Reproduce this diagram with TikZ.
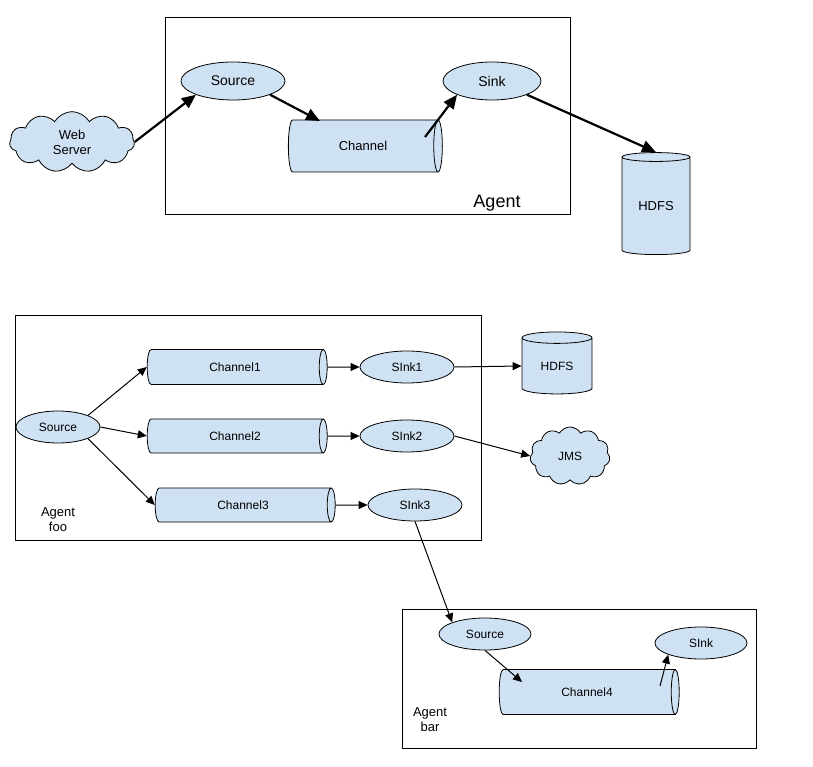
\documentclass[tikz,border=0pt]{standalone}
\usepackage{fontspec}
\setmainfont{Liberation Sans}
\usetikzlibrary{shapes.geometric,shapes.symbols,arrows.meta}
\definecolor{boxblue}{RGB}{207,226,243}
\begin{document}
\begin{tikzpicture}[x=1pt,y=-1pt,
   every node/.style={inner sep=0pt},
   ell/.style={draw,ellipse,fill=boxblue,thick},
   pipe/.style={draw,cylinder,fill=boxblue,thick,aspect=0.9,shape border rotate=0},
   tank/.style={draw,cylinder,fill=boxblue,thick,aspect=0.25,shape border rotate=90},
   fluff/.style={draw,cloud,cloud puffs=11,cloud puff arc=120,fill=boxblue,thick},
   frame/.style={draw,thick},
   big/.style={->,>={Triangle[length=14pt,width=12pt]},line width=2.2pt},
   to/.style={->,>={Triangle[length=9pt,width=8pt]},line width=1pt}]
\useasboundingbox (0,0) rectangle (813,767);
% top agent
\draw[frame] (165,17) rectangle (570,214);
\node[font=\fontsize{18}{20}\selectfont] (ag) at (497,203) {Agent};
\node[fluff,minimum width=125,minimum height=50,font=\fontsize{13}{15}\selectfont,align=center] (web) at (72,142) {Web\\Server};
\node[ell,minimum width=104,minimum height=38,font=\fontsize{14}{16}\selectfont] (src) at (233,81) {Source};
\node[pipe,minimum height=154,minimum width=52,font=\fontsize{13}{15}\selectfont] (ch) at (363,146) {Channel};
\node[ell,minimum width=98,minimum height=38,font=\fontsize{14}{16}\selectfont] (snk) at (492,81) {Sink};
\node[tank,minimum width=68,minimum height=102,font=\fontsize{13}{15}\selectfont] (hdfs) at (656,206) {HDFS};
\coordinate (chin) at (425,137);
\draw[big] (web.east) -- (src.south west);
\draw[big] (src.south east) -- (320,121);
\draw[big] (chin) -- (snk.south west);
\draw[big] (snk.south east) -- (hdfs.north);
% agent foo
\draw[frame] (15,315) rectangle (481,540);
\node[font=\fontsize{13}{15}\selectfont,align=center] (foo) at (58,520) {Agent\\foo};
\begin{scope}[every node/.append style={font=\fontsize{12}{14}\selectfont}]
\node[ell,minimum width=84,minimum height=32] (fsrc) at (58,427) {Source};
\node[pipe,minimum height=180,minimum width=35] (c1) at (235,367) {Channel1};
\node[pipe,minimum height=180,minimum width=34] (c2) at (235,436) {Channel2};
\node[pipe,minimum height=180,minimum width=34] (c3) at (243,505) {Channel3};
\node[ell,minimum width=94,minimum height=32] (s1) at (407,367) {SInk1};
\node[ell,minimum width=94,minimum height=32] (s2) at (407,436) {SInk2};
\node[ell,minimum width=94,minimum height=32] (s3) at (415,505) {SInk3};
\node[tank,minimum width=70,minimum height=62,aspect=0.35] (hdfs2) at (557,366) {HDFS};
\node[fluff,minimum width=80,minimum height=58] (jms) at (570,456) {JMS};
% agent bar
\node[ell,minimum width=92,minimum height=32] (bsrc) at (485,634) {Source};
\node[pipe,minimum height=180,minimum width=45] (c4) at (587,692) {Channel4};
\node[ell,minimum width=92,minimum height=32] (bsnk) at (701,643) {SInk};
\end{scope}
\draw[to] (fsrc.north east) -- (c1.west);
\draw[to] (fsrc.east) -- (c2.west);
\draw[to] (fsrc.south east) -- (c3.west);
\draw[to] (c1.east) -- (s1.west);
\draw[to] (c2.east) -- (s2.west);
\draw[to] (c3.east) -- (s3.west);
\draw[to] (s1.east) -- (hdfs2.west);
\draw[to] (s2.east) -- (jms.west);
\draw[to] (s3.south) -- (bsrc.north west);
\draw[frame] (402,609) rectangle (756,748);
\node[font=\fontsize{13}{15}\selectfont,align=center] (bar) at (430,720) {Agent\\bar};
\coordinate (c4in) at (660,686);
\draw[to] (bsrc.south) -- (522,682);
\draw[to] (c4in) -- (bsnk.south west);
\end{tikzpicture}
\end{document}
